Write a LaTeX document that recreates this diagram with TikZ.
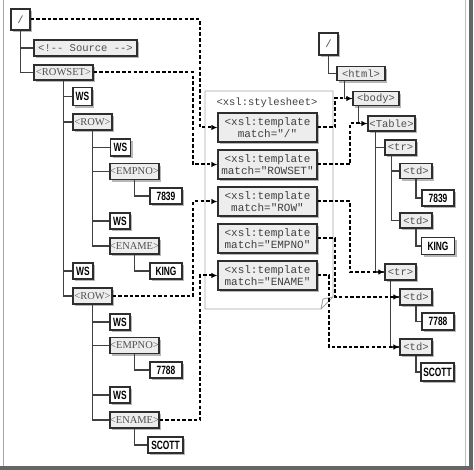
\documentclass[tikz,border=0pt]{standalone}
\usepackage{fontspec}
\setmainfont{Liberation Serif}
\setmonofont{Liberation Mono}
\newfontfamily\condfont[FakeStretch=0.7]{Liberation Sans}
\usetikzlibrary{shadows,arrows.meta,calc}
\definecolor{tagtxt}{HTML}{505050}
\definecolor{boxline}{HTML}{2E2E2E}
\definecolor{treeline}{HTML}{404040}
\definecolor{tagfill}{HTML}{EDEDED}
\tikzset{
  basebox/.style={draw=boxline, line width=1.2pt, inner sep=0pt, anchor=center,
    drop shadow={shadow xshift=2.2pt, shadow yshift=-2.2pt, fill=black!40, opacity=0.7}},
  tagbox/.style={basebox, fill=tagfill, text=tagtxt, font=\fontsize{10.5}{11}\selectfont},
  monobox/.style={basebox, fill=tagfill, text=tagtxt, font=\ttfamily\fontsize{10.5}{11}\selectfont},
  valbox/.style={basebox, fill=white, text=black, font=\condfont\bfseries\fontsize{12}{12}\selectfont},
  rootbox/.style={basebox, fill=white, text=tagtxt, font=\ttfamily\fontsize{10.5}{11}\selectfont},
  tplbox/.style={basebox, fill=tagfill, text=black!75, align=center, minimum width=99pt, minimum height=29pt,
    font=\ttfamily\fontsize{11}{11.5}\selectfont},
  tree/.style={draw=treeline, line width=1.3pt},
  dotarrow/.style={draw=black, line width=2pt, dash pattern=on 3.5pt off 2.2pt, -{Latex[length=6pt,width=5.5pt]}},
}
\begin{document}
\begin{tikzpicture}[x=1pt,y=-1pt]
\useasboundingbox (0,0) rectangle (474,470);
% frame
\draw[black!35, line width=0.8pt] (3,0) -- (3,467);
\draw[black!25, line width=0.6pt] (465,0) -- (465,466);
\fill[black!60] (469,0) rectangle (473,470);
\fill[black!60] (0,466) rectangle (473,470);

% stylesheet sheet
\draw[black!35, line width=0.9pt, fill=white] (205,91) -- (333,91) -- (333,297) -- (321,309) -- (205,309) -- cycle;
\draw[black!35, line width=0.9pt] (321,309) -- (323,299) -- (333,297);
\node[text=black!75, font=\ttfamily\fontsize{10.5}{11}\selectfont] (ss) at (267,103) {<xsl:stylesheet>};

% templates
\node[tplbox] (t1) at (267.5,127.5) {<xsl:template\\match="/"};
\node[tplbox] (t2) at (267.5,164.5) {<xsl:template\\match="ROWSET"};
\node[tplbox] (t3) at (267.5,201.5) {<xsl:template\\match="ROW"};
\node[tplbox] (t4) at (267.5,238.5) {<xsl:template\\match="EMPNO"};
\node[tplbox] (t5) at (267.5,275.5) {<xsl:template\\match="ENAME"};

% left tree
\node[rootbox, minimum width=19pt, minimum height=21pt] (r) at (20.5,19.5) {/};
\node[monobox, minimum width=103pt, minimum height=16pt] (src) at (85.5,48) {<!-- Source -->};
\node[tagbox, minimum width=59pt, minimum height=15pt] (rowset) at (63.5,72.5) {<ROWSET>};
\node[valbox, minimum width=19pt, minimum height=18pt] (ws1) at (82.5,96.5) {WS};
\node[tagbox, minimum width=39pt, minimum height=16pt] (row1) at (92.5,122) {<ROW>};
\node[valbox, minimum width=20pt, minimum height=17pt] (ws2) at (120.5,147.5) {WS};
\node[tagbox, minimum width=49pt, minimum height=16pt] (empno1) at (134.5,171.5) {<EMPNO>};
\node[valbox, minimum width=32pt, minimum height=16pt] (v7839) at (166,196) {7839};
\node[valbox, minimum width=20pt, minimum height=16pt] (ws3) at (120,221) {WS};
\node[tagbox, minimum width=49pt, minimum height=16pt] (ename1) at (134.5,246) {<ENAME>};
\node[valbox, minimum width=32pt, minimum height=16pt] (vking) at (166,271) {KING};
\node[valbox, minimum width=20pt, minimum height=16pt] (ws4) at (83,271) {WS};
\node[tagbox, minimum width=39pt, minimum height=16pt] (row2) at (92.5,296) {<ROW>};
\node[valbox, minimum width=20pt, minimum height=16pt] (ws5) at (120,322) {WS};
\node[tagbox, minimum width=49pt, minimum height=16pt] (empno2) at (134.5,345.5) {<EMPNO>};
\node[valbox, minimum width=32pt, minimum height=16pt] (v7788) at (166,370) {7788};
\node[valbox, minimum width=20pt, minimum height=16pt] (ws6) at (120,395) {WS};
\node[tagbox, minimum width=49pt, minimum height=16pt] (ename2) at (134.5,420) {<ENAME>};
\node[valbox, minimum width=35pt, minimum height=16pt] (vscott) at (165.5,445) {SCOTT};

\draw[tree] (r.south) |- (src.west);
\draw[tree] (r.south) |- (rowset.west);
\foreach \c in {ws1,row1,ws4,row2} \draw[tree] (rowset.south) |- (\c.west);
\foreach \c in {ws2,empno1,ws3,ename1} \draw[tree] (row1.south) |- (\c.west);
\foreach \c in {ws5,empno2,ws6,ename2} \draw[tree] (row2.south) |- (\c.west);
\draw[tree] (empno1.south) |- (v7839.west);
\draw[tree] (ename1.south) |- (vking.west);
\draw[tree] (empno2.south) |- (v7788.west);
\draw[tree] (ename2.south) |- (vscott.west);

% right tree
\node[rootbox, minimum width=19pt, minimum height=22pt] (h) at (328.5,44) {/};
\node[monobox, minimum width=48pt, minimum height=14pt] (html) at (361,73.5) {<html>};
\node[monobox, minimum width=46pt, minimum height=14pt] (body) at (376,98.5) {<body>};
\node[monobox, minimum width=47pt, minimum height=15pt] (table) at (391.5,123.5) {<Table>};
\node[monobox, minimum width=31pt, minimum height=15pt] (tr1) at (400.5,147.5) {<tr>};
\node[monobox, minimum width=32pt, minimum height=15pt] (td1) at (416,171) {<td>};
\node[valbox, minimum width=32pt, minimum height=16pt] (w7839) at (438,198) {7839};
\node[monobox, minimum width=32pt, minimum height=15pt] (td2) at (416,220.5) {<td>};
\node[valbox, minimum width=33pt, minimum height=17pt] (wking) at (438,246) {KING};
\node[monobox, minimum width=31pt, minimum height=16pt] (tr2) at (400.5,272) {<tr>};
\node[monobox, minimum width=32pt, minimum height=16pt] (td3) at (416,297) {<td>};
\node[valbox, minimum width=32pt, minimum height=17pt] (w7788) at (438,321.5) {7788};
\node[monobox, minimum width=32pt, minimum height=16pt] (td4) at (416,347) {<td>};
\node[valbox, minimum width=33pt, minimum height=18pt] (wscott) at (437.5,372) {SCOTT};

\draw[tree] (h.south) |- (html.west);
\draw[tree] ([xshift=8pt]html.south west) |- (body.west);
\draw[tree] ([xshift=6pt]body.south west) |- (table.west);
\draw[tree] ([xshift=8pt]table.south west) |- (tr1.west);
\draw[tree] ([xshift=8pt]table.south west) |- (tr2.west);
\draw[tree] ([xshift=7pt]tr1.south west) |- (td1.west);
\draw[tree] ([xshift=7pt]tr1.south west) |- (td2.west);
\draw[tree] ([xshift=6pt]tr2.south west) |- (td3.west);
\draw[tree] ([xshift=6pt]tr2.south west) |- (td4.west);
\draw[tree] (td1.south) |- (w7839.west);
\draw[tree] (td2.south) |- (wking.west);
\draw[tree] (td3.south) |- (w7788.west);
\draw[tree] (td4.south) |- (wscott.west);

% routing columns
\coordinate (xa) at (200,0);
\coordinate (xb) at (193,0);
\coordinate (xc) at (335,0);
\coordinate (xd) at (350,0);
\coordinate (xf) at (329,0);

% source -> templates
\draw[dotarrow] (r.east) -| (xa |- t1.west) -- (t1.west);
\draw[dotarrow] (rowset.east) -| (xb |- t2.west) -- (t2.west);
\draw[dotarrow] (row2.east) -| (xb |- t3.west) -- (t3.west);
\draw[dotarrow] (ename2.east) -| (xa |- t5.west) -- (t5.west);

% templates -> result
\draw[dotarrow] (t1.east) -| (xc |- body.west) -- (body.west);
\draw[dotarrow] (t2.east) -| (xd |- table.west) -- (table.west);
\draw[dotarrow] (t3.east) -| (xd |- tr2.west) -- (tr2.west);
\draw[dotarrow] (t4.east) -| (xc |- td3.west) -- (td3.west);
\draw[dotarrow] (t5.east) -| (xf |- td4.west) -- (td4.west);
\end{tikzpicture}
\end{document}
